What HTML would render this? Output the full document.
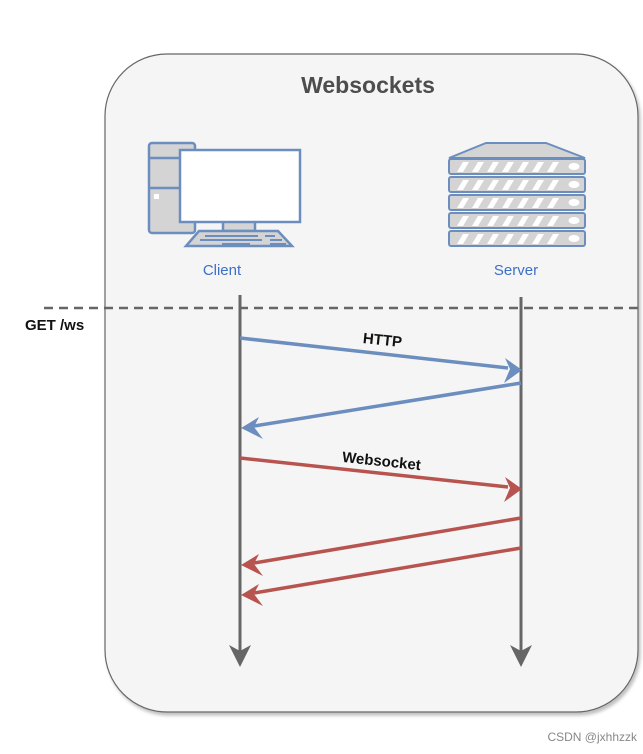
<!DOCTYPE html>
<html><head><meta charset="utf-8"><style>
html,body{margin:0;padding:0;background:#fff;}
svg{display:block;font-family:"Liberation Sans",Arial,sans-serif;}
</style></head><body>
<svg width="643" height="754" viewBox="0 0 643 754" xmlns="http://www.w3.org/2000/svg">
<defs>
<filter id="sh" x="-5%" y="-5%" width="110%" height="110%"><feDropShadow dx="2" dy="3" stdDeviation="1.5" flood-color="#000" flood-opacity="0.25"/></filter>
</defs>
<rect x="105" y="54" width="533" height="658" rx="62" ry="62" fill="#f5f5f5" stroke="#666" stroke-width="1.2" filter="url(#sh)"/>
<text x="368" y="93" text-anchor="middle" font-size="23" font-weight="bold" fill="#4d4d4d">Websockets</text>

<!-- client icon -->
<g stroke="#6c8ebf" stroke-width="2.5" fill="#d4d4d4">
<rect x="149" y="143" width="46" height="90" rx="3"/>
<line x1="149" y1="158" x2="195" y2="158"/>
<line x1="149" y1="188" x2="195" y2="188"/>
<rect x="223" y="218" width="32" height="13"/>
<polygon points="199,231 278,231 292,246 186,246"/>
<rect x="180" y="150" width="120" height="72" fill="#fff"/>
</g>
<rect x="154" y="194" width="5" height="5" fill="#fff"/>
<g stroke="#6c8ebf" stroke-width="2">
<line x1="205" y1="236" x2="258" y2="236"/><line x1="265" y1="236" x2="275" y2="236"/>
<line x1="200" y1="240" x2="262" y2="240"/><line x1="270" y1="240" x2="282" y2="240"/>
<line x1="222" y1="244" x2="250" y2="244"/><line x1="270" y1="244" x2="286" y2="244"/>
</g>
<text x="222" y="275" text-anchor="middle" font-size="15" fill="#3d6fc7">Client</text>

<!-- server icon -->
<g stroke="#6c8ebf" stroke-width="2" fill="#d4d4d4">
<polygon points="449,158 486,143 546,143 585,158"/>
<rect x="449" y="159" width="136" height="15" rx="2"/>
<rect x="449" y="177" width="136" height="15" rx="2"/>
<rect x="449" y="195" width="136" height="15" rx="2"/>
<rect x="449" y="213" width="136" height="15" rx="2"/>
<rect x="449" y="231" width="136" height="15" rx="2"/>
</g>
<g fill="#fff">
<g id="r"><polygon points="457,172 463,162 469,162 463,172"/><polygon points="472,172 478,162 484,162 478,172"/><polygon points="487,172 493,162 499,162 493,172"/><polygon points="502,172 508,162 514,162 508,172"/><polygon points="517,172 523,162 529,162 523,172"/><polygon points="532,172 538,162 544,162 538,172"/><polygon points="547,172 553,162 559,162 553,172"/><ellipse cx="574" cy="166.5" rx="5.5" ry="3.5"/></g>
<use href="#r" y="18"/><use href="#r" y="36"/><use href="#r" y="54"/><use href="#r" y="72"/>
</g>
<text x="516" y="275" text-anchor="middle" font-size="15" fill="#3d6fc7">Server</text>

<!-- dashed -->
<line x1="44" y1="308" x2="640" y2="308" stroke="#666" stroke-width="2.5" stroke-dasharray="9,6"/>
<text x="25" y="330" font-size="15" font-weight="bold" fill="#111">GET /ws</text>

<!-- lifelines -->
<g stroke="#666" stroke-width="3"><line x1="240" y1="295" x2="240" y2="655"/><line x1="521" y1="297" x2="521" y2="655"/></g>
<polygon points="229,645 240,667 251,645 240,651" fill="#666"/>
<polygon points="510,645 521,667 532,645 521,651" fill="#666"/>

<!-- arrows -->
<g stroke-width="3.5" fill="none">
<line x1="240" y1="338" x2="508" y2="368" stroke="#6c8ebf"/>
<line x1="521" y1="383" x2="254" y2="426" stroke="#6c8ebf"/>
<line x1="240" y1="458" x2="508" y2="487" stroke="#b85450"/>
<line x1="521" y1="518" x2="254" y2="563" stroke="#b85450"/>
<line x1="521" y1="548" x2="254" y2="593" stroke="#b85450"/>
</g>
<polygon points="522,370 505,358 510,369 504,383" fill="#6c8ebf"/>
<polygon points="241,428 259,417 254,427 263,439" fill="#6c8ebf"/>
<polygon points="522,489 505,477 510,488 504,502" fill="#b85450"/>
<polygon points="241,565 259,554 254,564 263,576" fill="#b85450"/>
<polygon points="241,595 259,584 254,594 263,606" fill="#b85450"/>

<text x="382" y="345" text-anchor="middle" font-size="15" font-weight="bold" fill="#111" transform="rotate(6 382 345)">HTTP</text>
<text x="381" y="466" text-anchor="middle" font-size="15" font-weight="bold" fill="#111" transform="rotate(6 381 466)">Websocket</text>

<text x="637" y="741" text-anchor="end" font-size="12" fill="#888">CSDN @jxhhzzk</text>
</svg>
</body></html>
